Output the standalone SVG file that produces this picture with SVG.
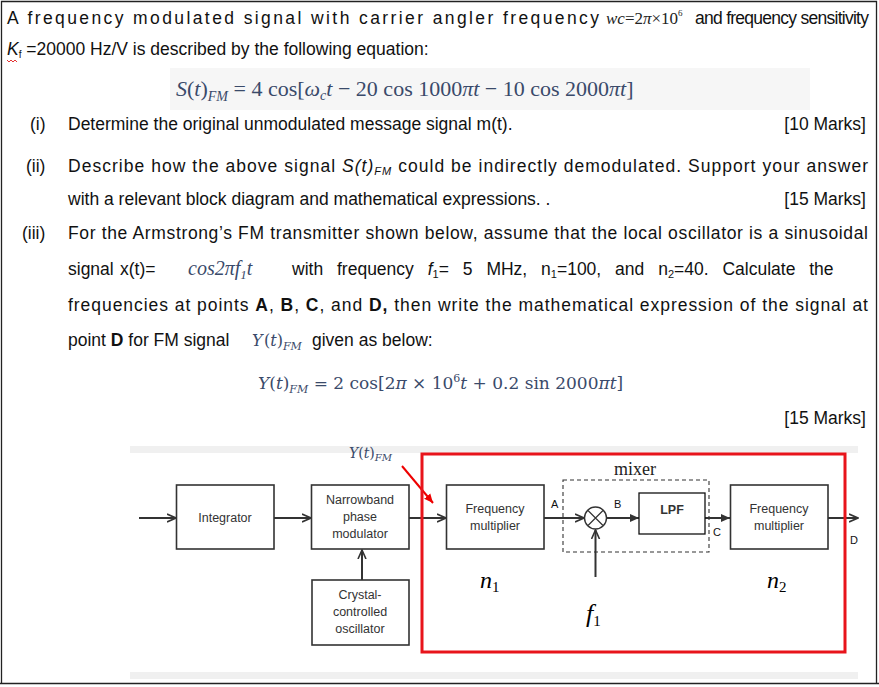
<svg xmlns="http://www.w3.org/2000/svg" width="879" height="687" viewBox="0 0 879 687">
<style>
.t{font-family:"Liberation Sans",Arial,sans-serif;font-size:17.5px;fill:#111}
.m{font-family:"Liberation Serif","Times New Roman",serif;fill:#222}
.mi{font-family:"Liberation Serif","Times New Roman",serif;font-style:italic}
.eq{font-family:"DejaVu Serif","Liberation Serif",serif;fill:#3a4a6a}
.box{fill:#fff;stroke:#333;stroke-width:1.6}
.bl{font-family:"Liberation Sans",Arial,sans-serif;font-size:12.5px;fill:#333;text-anchor:middle}
.ln{stroke:#333;stroke-width:2;fill:none}
.lb{font-family:"Liberation Sans",Arial,sans-serif;font-size:11px;fill:#111}
</style>
<defs>
<marker id="ah" markerWidth="10" markerHeight="10" refX="9" refY="5" orient="auto" markerUnits="userSpaceOnUse"><path d="M0,1 L9,5 L0,9" fill="none" stroke="#333" stroke-width="1.6"/></marker>
<marker id="af" markerWidth="10" markerHeight="10" refX="9" refY="5" orient="auto" markerUnits="userSpaceOnUse"><path d="M0,1 L9,5 L0,9 z" fill="#333"/></marker>
<marker id="ar" markerWidth="10" markerHeight="10" refX="9" refY="5" orient="auto" markerUnits="userSpaceOnUse"><path d="M0,1 L9,5 L0,9 z" fill="#e00"/></marker>
</defs>
<rect width="879" height="687" fill="#fff"/>
<g id="frame" stroke="#222" stroke-width="1.3" fill="none">
<path d="M1.5,683 V1.5 H876.5 V683"/>
<path d="M0,683.5 H879"/>
</g>
<g id="text">
<text class="t" x="7" y="24" textLength="592" lengthAdjust="spacing">A frequency modulated signal with carrier angler frequency</text>
<text class="m" x="606" y="24" font-size="17"><tspan class="mi">wc</tspan>=2<tspan class="mi">π</tspan>×10<tspan font-size="9" dy="-8">6</tspan></text>
<text class="t" x="695" y="24" textLength="174" lengthAdjust="spacing">and frequency sensitivity</text>
<text class="t" x="7" y="55"><tspan font-style="italic">K</tspan><tspan font-size="10" dy="3">f</tspan><tspan dy="-3"> =20000 Hz/V is described by the following equation:</tspan></text>
<path d="M7,60 l2,2 2,-2 2,2 2,-2 2,2" stroke="#d00" fill="none" stroke-width="0.8"/>
<rect x="170" y="68" width="640" height="42" fill="#f6f6f6"/>
<text x="176" y="96" font-size="22" font-family="Liberation Serif, serif" fill="#3a4a6a"><tspan font-style="italic">S</tspan>(<tspan font-style="italic">t</tspan>)<tspan font-size="14" dy="5" font-style="italic">FM</tspan><tspan dy="-5"> = 4 cos[</tspan><tspan font-style="italic">ω</tspan><tspan font-size="14" dy="4" font-style="italic">c</tspan><tspan dy="-4" font-style="italic">t</tspan> − 20 cos 1000<tspan font-style="italic">πt</tspan> − 10 cos 2000<tspan font-style="italic">πt</tspan>]</text>
<text class="t" x="30" y="130">(i)</text>
<text class="t" x="68" y="130">Determine the original unmodulated message signal m(t).</text>
<text class="t" x="866" y="130" text-anchor="end">[10 Marks]</text>
<text class="t" x="26" y="172">(ii)</text>
<text class="t" x="68" y="172" textLength="800" lengthAdjust="spacing">Describe how the above signal <tspan font-style="italic">S(t)</tspan><tspan font-style="italic" font-size="11" dy="3">FM</tspan><tspan dy="-3"> could be indirectly demodulated. Support your answer</tspan></text>
<text class="t" x="68" y="205">with a relevant block diagram and mathematical expressions. .</text>
<text class="t" x="866" y="205" text-anchor="end">[15 Marks]</text>
<text class="t" x="22" y="239">(iii)</text>
<text class="t" x="68" y="239" textLength="800" lengthAdjust="spacing">For the Armstrong’s FM transmitter shown below, assume that the local oscillator is a sinusoidal</text>
<text class="t" x="68" y="275">signal</text>
<text class="t" x="120" y="275" font-size="19">x(t)=</text>
<text class="mi" x="188" y="275" font-size="20" fill="#3a4a6a">cos2πf<tspan font-size="13" dy="4">1</tspan><tspan dy="-4">t</tspan></text>
<text class="t" x="292" y="275" word-spacing="9">with frequency <tspan font-style="italic">f</tspan><tspan font-size="11" dy="3">1</tspan><tspan dy="-3">= 5 MHz, n</tspan><tspan font-size="11" dy="3">1</tspan><tspan dy="-3">=100, and n</tspan><tspan font-size="11" dy="3">2</tspan><tspan dy="-3">=40. Calculate the</tspan></text>
<text class="t" x="68" y="311" textLength="800" lengthAdjust="spacing">frequencies at points <tspan font-weight="bold">A</tspan>, <tspan font-weight="bold">B</tspan>, <tspan font-weight="bold">C</tspan>, and <tspan font-weight="bold">D,</tspan> then write the mathematical expression of the signal at</text>
<text class="t" x="68" y="346">point <tspan font-weight="bold">D</tspan> for FM signal</text>
<text class="eq" x="252" y="346" font-size="16" fill="#3a4a6a" font-style="italic">Y</text>
<text class="eq" x="264" y="346" font-size="16">(<tspan font-style="italic">t</tspan>)<tspan font-size="11" dy="4" font-style="italic">FM</tspan></text>
<text class="t" x="312" y="346">given as below:</text>
<text class="eq" x="258" y="389" font-size="17"><tspan font-style="italic">Y</tspan>(<tspan font-style="italic">t</tspan>)<tspan font-size="11" dy="4" font-style="italic">FM</tspan><tspan dy="-4"> = 2 cos[2</tspan><tspan font-style="italic">π</tspan> × 10<tspan font-size="11" dy="-7">6</tspan><tspan dy="7" font-style="italic">t</tspan> + 0.2 sin 2000<tspan font-style="italic">πt</tspan>]</text>
<text class="t" x="866" y="424" text-anchor="end">[15 Marks]</text>
</g>
<rect x="130" y="446" width="728" height="233" fill="#f0f0f0"/>
<rect x="130" y="453" width="728" height="219" fill="#fff"/>
<g id="connectors">
<line class="ln" x1="139" y1="518" x2="176" y2="518" marker-end="url(#ah)"/>
<line class="ln" x1="274" y1="518" x2="311" y2="518" marker-end="url(#ah)"/>
<line class="ln" x1="409" y1="518" x2="446" y2="518" marker-end="url(#ah)"/>
<line class="ln" x1="362" y1="580" x2="362" y2="550" stroke-width="1.4" marker-end="url(#ah)"/>
<line class="ln" x1="544" y1="518" x2="584" y2="518" marker-end="url(#ah)"/>
<line class="ln" x1="595.5" y1="577" x2="595.5" y2="530" stroke-width="1.2" marker-end="url(#ah)"/>
<line class="ln" x1="607" y1="518" x2="639" y2="518" marker-end="url(#af)"/>
<line class="ln" x1="705" y1="518" x2="730" y2="518" marker-end="url(#af)"/>
<line class="ln" x1="828" y1="518" x2="858" y2="518" marker-end="url(#ah)"/>
<line x1="402" y1="466" x2="433" y2="503" stroke="#e00" stroke-width="2" marker-end="url(#ar)"/>
</g>
<rect x="422" y="454" width="423" height="198" fill="none" stroke="#e8141b" stroke-width="3"/>
<rect x="563" y="480" width="146" height="72" fill="none" stroke="#333" stroke-width="1.1" stroke-dasharray="4,3"/>
<g id="integrator"><rect class="box" x="176.5" y="485" width="97.5" height="64"/><text class="bl" x="225" y="522">Integrator</text></g>
<g id="nbpm"><rect class="box" x="311.5" y="485" width="97.5" height="64"/><text class="bl" x="360" y="504">Narrowband</text><text class="bl" x="360" y="521">phase</text><text class="bl" x="360" y="538">modulator</text></g>
<g id="crystal"><rect class="box" x="312" y="580" width="97" height="65"/><text class="bl" x="360" y="599">Crystal-</text><text class="bl" x="360" y="616">controlled</text><text class="bl" x="360" y="633">oscillator</text></g>
<g id="fm1"><rect class="box" x="446.5" y="485" width="97.5" height="64"/><text class="bl" x="495" y="513">Frequency</text><text class="bl" x="495" y="530">multiplier</text></g>
<g id="mixer"><circle cx="595.5" cy="518" r="11" fill="#fff" stroke="#333" stroke-width="1.4"/><path d="M588,510.5 L603,525.5 M603,510.5 L588,525.5" stroke="#333" stroke-width="1.2"/></g>
<g id="lpf"><rect x="639" y="493" width="66" height="41" fill="#fff" stroke="#111" stroke-width="1.3"/><text class="bl" x="672" y="514" font-weight="bold" fill="#111" font-size="13">LPF</text></g>
<g id="fm2"><rect class="box" x="730.5" y="485" width="97.5" height="64"/><text class="bl" x="779" y="513">Frequency</text><text class="bl" x="779" y="530">multiplier</text></g>
<g id="labels">
<text class="eq" x="349" y="458" font-size="14" fill="#2a3a7a"><tspan font-style="italic">Y</tspan>(<tspan font-style="italic">t</tspan>)<tspan font-size="10" dy="3" font-style="italic">FM</tspan></text>
<text class="m" x="614" y="475" font-size="18">mixer</text>
<text class="lb" x="551" y="508">A</text>
<text class="lb" x="614" y="508">B</text>
<text class="lb" x="713" y="536">C</text>
<text class="lb" x="850" y="544">D</text>
<text class="mi" x="480" y="588" font-size="24">n<tspan font-style="normal" font-size="15" dy="4">1</tspan></text>
<text class="mi" x="767" y="588" font-size="24">n<tspan font-style="normal" font-size="15" dy="4">2</tspan></text>
<text class="mi" x="586" y="622" font-size="26">f<tspan font-style="normal" font-size="15" dy="4">1</tspan></text>
</g>
</svg>
